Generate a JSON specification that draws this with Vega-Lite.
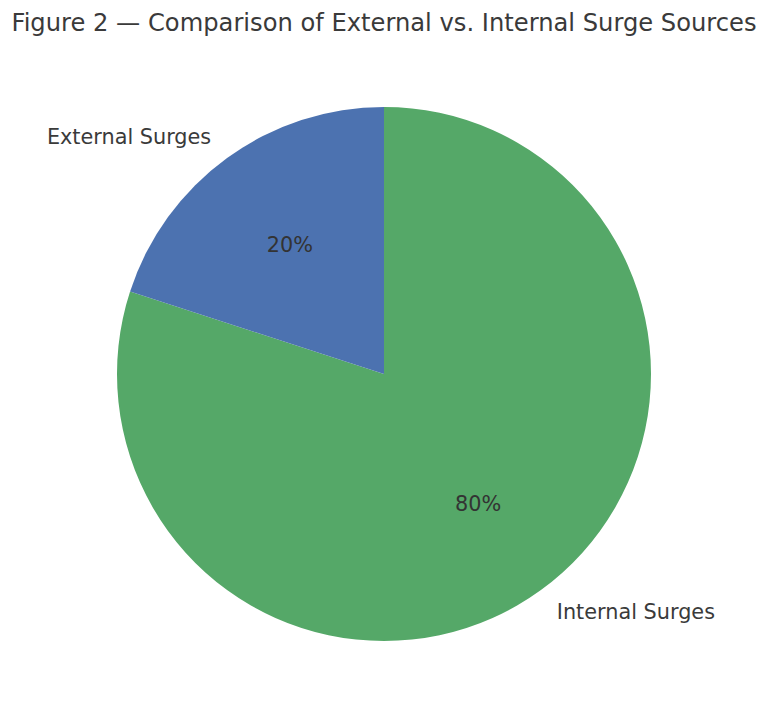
{
  "$schema": "https://vega.github.io/schema/vega-lite/v6.json",
  "description": "Pie chart comparing external and internal surge sources",
  "autosize": {"type": "none"},
  "width": 768,
  "height": 668,
  "padding": {"top": 40, "left": 0, "right": 0, "bottom": 13},
  "background": "#ffffff",
  "title": {
    "text": "Figure 2 — Comparison of External vs. Internal Surge Sources",
    "font": "DejaVu Sans",
    "fontSize": 24.2,
    "fontWeight": "normal",
    "color": "#3a3a3a",
    "anchor": "middle",
    "offset": 4
  },
  "data": {
    "values": [
      {"source": "Internal Surges", "share": 80, "label": "80%", "idx": 0},
      {"source": "External Surges", "share": 20, "label": "20%", "idx": 1}
    ]
  },
  "encoding": {
    "theta": {"field": "share", "type": "quantitative", "stack": true},
    "order": {"field": "idx", "type": "quantitative"}
  },
  "layer": [
    {
      "mark": {"type": "arc", "outerRadius": 267},
      "encoding": {
        "color": {
          "field": "source",
          "type": "nominal",
          "scale": {
            "domain": ["External Surges", "Internal Surges"],
            "range": ["#4c72b0", "#55a868"]
          },
          "legend": null
        }
      }
    },
    {
      "mark": {"type": "text", "radius": 160, "font": "DejaVu Sans", "fontSize": 20.8, "color": "#333333", "baseline": "middle", "align": "center", "dy": 1.5},
      "encoding": {"text": {"field": "label", "type": "nominal"}}
    },
    {
      "mark": {"type": "text", "radius": 294, "font": "DejaVu Sans", "fontSize": 20.8, "color": "#3a3a3a", "baseline": "middle", "align": "right", "dy": 1.5},
      "encoding": {
        "text": {
          "condition": {"test": "datum.source == 'External Surges'", "field": "source"},
          "value": ""
        }
      }
    },
    {
      "mark": {"type": "text", "radius": 294, "font": "DejaVu Sans", "fontSize": 20.8, "color": "#3a3a3a", "baseline": "middle", "align": "left", "dy": 1.5},
      "encoding": {
        "text": {
          "condition": {"test": "datum.source == 'Internal Surges'", "field": "source"},
          "value": ""
        }
      }
    }
  ],
  "config": {"view": {"stroke": null}}
}
